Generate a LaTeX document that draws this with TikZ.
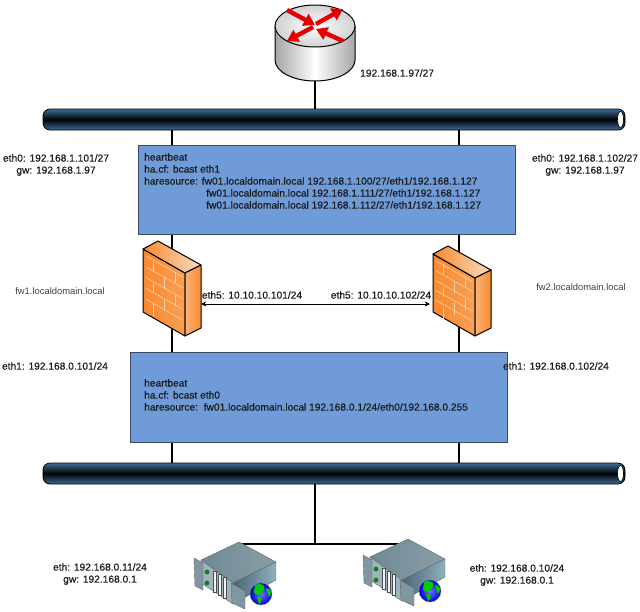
\documentclass[tikz,border=0pt]{standalone}
\usepackage{fontspec}
\setmainfont{Liberation Sans}
\newfontface\lblface{Liberation Sans}[FakeBold=0.45]
\usetikzlibrary{arrows.meta,calc}
\definecolor{boxblue}{HTML}{6F9BD9}
\definecolor{boxedge}{HTML}{3A4A60}
\definecolor{busblue}{HTML}{3D6E9C}
\definecolor{fwo}{HTML}{F98A2E}
\definecolor{fwl}{HTML}{F7DCC2}
\definecolor{txt}{HTML}{1A1A1A}
\definecolor{srvtop}{HTML}{6F8A95}
\definecolor{srvtopb}{HTML}{8A9DA5}
\definecolor{srvsa}{HTML}{4A6675}
\definecolor{srvsb}{HTML}{8FB0BE}
\definecolor{srvf}{HTML}{9DB4BF}
\definecolor{srve}{HTML}{7F97A3}
\tikzset{
  x=1pt,y=-1pt,
  lbl/.style={inner sep=0,text=txt,font=\lblface\fontsize{10.2}{12}\selectfont},
  lblc/.style={lbl,align=center},
  small/.style={inner sep=0,text=black!75,font=\fontsize{9.4}{12}\selectfont},
  box/.style={draw=boxedge,line width=0.7,fill=boxblue,inner sep=0,anchor=north west},
  bus/.style={draw=black,line width=0.8,rounded corners=7,top color=busblue,bottom color=busblue,middle color=black},
  wire/.style={draw=black,line width=1.8},
  ghost/.style={inner sep=0,draw=none},
  rarr/.style={draw=red!90!black,line width=4.4,-{Triangle[width=13,length=11]}},
  brick/.style={draw=fwl!85!fwo,line width=0.6},
  outl/.style={draw=black,line width=1,line join=round},
  srvl/.style={draw=black!60,line width=0.4},
}
\newcommand{\firewall}[2]{%
  \begin{scope}[shift={(#1,0)}]
    \path[outl,left color=fwo,right color=fwo!75!fwl] (143,249+#2) -- (185,273+#2) -- (185,336) -- (143,312) -- cycle;
    \path[outl,left color=fwo,right color=fwl] (143,249+#2) -- (158,241+#2) -- (201,265+#2) -- (185,273+#2) -- cycle;
    \path[outl,left color=fwl!50!fwo,right color=fwo] (185,273+#2) -- (201,265+#2) -- (201,328) -- (185,336) -- cycle;
    \foreach \yy in {0,1,2,3,4}{
      \pgfmathsetmacro{\ya}{256+#2+\yy*(54-#2)/5}
      \draw[brick] (146,\ya) -- (183,\ya+21);
    }
    \pgfmathsetmacro{\yb}{256+#2+(54-#2)/5}
    \draw[brick] (153,\yb+4) -- (153,\yb-7);
    \draw[brick] (164,\yb+10) -- (164,\yb+22);
    \draw[brick] (175,\yb+16) -- (175,\yb+5);
    \draw[brick] (153,\yb+26) -- (153,\yb+16);
    \draw[brick] (164,\yb+32) -- (164,\yb+44);
    \draw[brick] (175,\yb+39) -- (175,\yb+28);
    \draw[brick] (153,\yb+37) -- (153,\yb+49);
  \end{scope}}
\newcommand{\server}[2]{%
  \begin{scope}[shift={(#1,#2)}]
    \path[srvl,left color=srvtop,right color=srvtopb] (201,560) -- (239,542) -- (276,562) -- (233,583) -- cycle;
    \path[srvl,left color=srvsa,right color=srvsb] (233,583) -- (276,562) -- (276,580) -- (233,604) -- cycle;
    \path[srvl,fill=srvf] (201,560) -- (233,583) -- (233,604) -- (201,583) -- cycle;
    \path[srvl,fill=srve] (194,558) -- (203,563) -- (203,590) -- (195,586) -- cycle;
    \path[srvl,fill=srve] (231,583) -- (245,591) -- (245,609) -- (232,603) -- cycle;
    \foreach \xx/\yy in {213/571,218/574,223/577}{
      \path[draw=black!70,line width=0.3,fill=white!85!srvf] (\xx,\yy) rectangle (\xx+3,\yy+21);
    }
    \foreach \yy in {572,583}{
      \path[draw=black!70,line width=0.3,fill=green!55!black] (207,\yy) circle (2.2);
    }
    \path[draw=black!50,line width=0.3,inner color=blue!55!white,outer color=blue!80!black] (261,594) circle (11);
    \path[fill=green!80!black] (255,585) .. controls (262,582) and (267,586) .. (263,591) .. controls (261,597) and (256,596) .. (254,592) -- cycle;
    \path[fill=green!80!black] (266,589) .. controls (272,586) and (272,596) .. (269,597) -- cycle;
    \path[fill=green!80!black] (257,597) .. controls (263,596) and (263,602) .. (259,604) -- cycle;
  \end{scope}}
\begin{document}
\begin{tikzpicture}
\useasboundingbox (0,0) rectangle (640,611);
\node[ghost,minimum width=80,minimum height=76] (router) at (315,43) {};
\node[ghost,minimum width=58,minimum height=96] (fw1) at (172,288) {};
\node[ghost,minimum width=58,minimum height=90] (fw2) at (459,291) {};
\node[ghost,minimum width=82,minimum height=70] (srv1) at (239,577) {};
\node[ghost,minimum width=82,minimum height=70] (srv2) at (408,574) {};
\coordinate (junction) at (315,544);
% buses
\path[bus] (43,109) rectangle (625,130);
\path[fill=white,draw=black,line width=0.6] (620.5,119.5) ellipse[x radius=3,y radius=8];
\node[ghost,minimum width=582,minimum height=21] (bus1) at (334,119.5) {};
\path[bus] (43,463) rectangle (625,484);
\path[fill=white,draw=black,line width=0.6] (620.5,473.5) ellipse[x radius=3,y radius=8];
\node[ghost,minimum width=582,minimum height=21] (bus2) at (334,473.5) {};
\node[box,minimum width=377,minimum height=89] (box1) at (138,145) {};
\node[box,minimum width=377,minimum height=90] (box2) at (130,352) {};
% connectors
\draw[wire] (router.south) -- (bus1.north -| router.south);
\draw[wire] (bus1.south -| fw1.center) -- (box1.north -| fw1.center);
\draw[wire] (bus1.south -| fw2.center) -- (box1.north -| fw2.center);
\draw[wire] (box1.south -| fw1.center) -- (fw1.center);
\draw[wire] (box1.south -| fw2.center) -- (fw2.center);
\draw[wire] (fw1.center) -- (box2.north -| fw1.center);
\draw[wire] (fw2.center) -- (box2.north -| fw2.center);
\draw[wire] (box2.south -| fw1.center) -- (bus2.north -| fw1.center);
\draw[wire] (box2.south -| fw2.center) -- (bus2.north -| fw2.center);
\draw[wire] (bus2.south -| junction) -- (junction);
\draw[wire] (srv1.north |- junction) -- (srv2.north |- junction);
% router
\path[outl,left color=black!35,right color=black!35,middle color=white] (275,26) -- (275,60) arc[start angle=180,end angle=0,x radius=40,y radius=21] -- (355,26) -- cycle;
\path[outl,inner color=white,outer color=black!18] (315,26) ellipse[x radius=40,y radius=21];
\draw[rarr] (287,10) -- (315,25);
\draw[rarr] (316,24) -- (343,9);
\draw[rarr] (313,27) -- (287,41);
\draw[rarr] (343,41) -- (316,29);
% firewalls
\firewall{0}{0}
\firewall{290}{5}
\server{0}{0}
\server{169}{-3}
\draw[black,line width=0.5,{Stealth[length=5,width=5]}-{Stealth[length=5,width=5]}] (fw1.east |- 0,304) -- (fw2.west |- 0,304);
% box text
\node[lbl,align=left,anchor=north west] (t1) at (144,153) {heartbeat\\ha.cf: bcast eth1\\haresource: fw01.localdomain.local 192.168.1.100/27/eth1/192.168.1.127\\\hspace*{62pt}fw01.localdomain.local 192.168.1.111/27/eth1/192.168.1.127\\\hspace*{62pt}fw01.localdomain.local 192.168.1.112/27/eth1/192.168.1.127};
\node[lbl,align=left,anchor=north west] (t2) at (144,379) {heartbeat\\ha.cf: bcast eth0\\haresource:\ \ fw01.localdomain.local 192.168.0.1/24/eth0/192.168.0.255};
% outer labels
\node[lbl,anchor=west] (l0) at (360,73) {192.168.1.97/27};
\node[lblc] (l1) at (56,165) {eth0: 192.168.1.101/27\\gw: 192.168.1.97};
\node[lblc] (l2) at (585,165) {eth0: 192.168.1.102/27\\gw: 192.168.1.97};
\node[small] (l3) at (60,291) {fw1.localdomain.local};
\node[small] (l4) at (581,287) {fw2.localdomain.local};
\node[lbl] (l5) at (252,295) {eth5: 10.10.10.101/24};
\node[lbl] (l6) at (381,295) {eth5: 10.10.10.102/24};
\node[lbl] (l7) at (55,366) {eth1: 192.168.0.101/24};
\node[lbl] (l8) at (556,366) {eth1: 192.168.0.102/24};
\node[lblc] (l9) at (100,574) {eth: 192.168.0.11/24\\gw: 192.168.0.1};
\node[lblc] (l10) at (517,575) {eth: 192.168.0.10/24\\gw: 192.168.0.1};
\end{tikzpicture}
\end{document}
